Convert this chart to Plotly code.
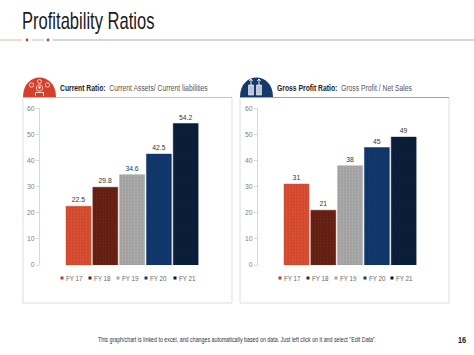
import json
import plotly.graph_objects as go

W, H = 474, 355
categories = ["FY 17", "FY 18", "FY 19", "FY 20", "FY 21"]
current_ratio = [22.5, 29.8, 34.6, 42.5, 54.2]
gross_profit_ratio = [31, 21, 38, 45, 49]
current_labels = ["22.5", "29.8", "34.6", "42.5", "54.2"]
gross_labels = ["31", "21", "38", "45", "49"]
y_ticks = [0, 10, 20, 30, 40, 50, 60]
colors = ["#D2452A", "#6C2316", "#9F9F9F", "#123A6E", "#0B1F3D"]
pattern_fg = ["#DB5A3E", "#591A0E", "#B2B2B2", "#0E3060", "#081830"]
legend_colors = ["#C0392B", "#5E1A10", "#A6A6A6", "#123A6E", "#0B1626"]
SANS = "Liberation Sans, Arial, sans-serif"


def px(x):
    return x / W


def py(y):
    return 1 - y / H


def path(*cmds):
    out = []
    for c in cmds:
        if isinstance(c, str):
            out.append(c)
        else:
            out.append(f"{px(c[0]):.5f},{py(c[1]):.5f}")
    return " ".join(out)


fig = go.Figure()
shapes = []
annotations = []
text_scales = []


def rect(x0, y0, x1, y1, fill="rgba(0,0,0,0)", line="rgba(0,0,0,0)", lw=0, layer="below"):
    shapes.append(dict(type="rect", xref="paper", yref="paper", x0=px(x0), x1=px(x1), y0=py(y0), y1=py(y1),
                       fillcolor=fill, line=dict(color=line, width=lw), layer=layer))


def seg(x0, y0, x1, y1, color, lw=1.0, layer="below"):
    shapes.append(dict(type="line", xref="paper", yref="paper", x0=px(x0), x1=px(x1), y0=py(y0), y1=py(y1),
                       line=dict(color=color, width=lw), layer=layer))


def circ(cx, cy, r, fill="rgba(0,0,0,0)", line="#FFFFFF", lw=0.7):
    shapes.append(dict(type="circle", xref="paper", yref="paper", x0=px(cx - r), x1=px(cx + r), y0=py(cy - r), y1=py(cy + r),
                       fillcolor=fill, line=dict(color=line, width=lw), layer="above"))


def text(x, y, s, size, color, scale=1.0):
    annotations.append(dict(xref="paper", yref="paper", x=px(x), y=py(y), text=s, showarrow=False,
                            xanchor="left", yanchor="middle", align="left",
                            font=dict(size=size, color=color, family=SANS), borderpad=0, borderwidth=0))
    text_scales.append(scale)


# slide title and rule
text(22, 20.5, "Profitability Ratios", 23, "#1A1A1A", 0.72)
seg(0, 40, 22, 40, "#D9B9A8", 1)
seg(32, 40, 44, 40, "#D9B9A8", 1)
seg(53, 40, 474, 40, "#A9AEB0", 1.2)
circ(27, 40, 1.4, fill="#B5492F", line="#B5492F", lw=0)
circ(48, 40, 1.4, fill="#B5492F", line="#B5492F", lw=0)

# panels
panels = [
    dict(left=23, right=232, ax0=40, ax1=225, top="#E3B9AC", head="#D5402A", vals=current_ratio, labs=current_labels,
         xa="x", ya="y", lx=[62, 90, 118, 146, 175], cap_x=60,
         bold="Current Ratio:", rest="Current Assets/ Current liabilities"),
    dict(left=240, right=449, ax0=258, ax1=442, top="#9AA6B2", head="#14396B", vals=gross_profit_ratio, labs=gross_labels,
         xa="x2", ya="y2", lx=[280, 308, 336, 365, 392], cap_x=277,
         bold="Gross Profit Ratio:", rest="Gross Profit / Net Sales"),
]
for p in panels:
    L = p["left"]
    rect(L, 97.5, p["right"], 303, fill="#FFFFFF", line="#DEDEDE", lw=1)
    seg(L, 97.5, p["right"], 97.5, p["top"], 1)
    # header half disc
    shapes.append(dict(type="path", xref="paper", yref="paper", layer="below", fillcolor=p["head"], line=dict(width=0),
                       path=path("M", (L, 97), "C", (L, 71), (L + 33, 71), (L + 33, 97), "Z")))
    text(p["cap_x"], 87.5, f"<b>{p['bold']}</b>  <span style='color:#555555'>{p['rest']}</span>", 8.6, "#222222", 0.79)
    # legend
    for xk, cat, c in zip(p["lx"], categories, legend_colors):
        rect(xk - 1.5, 276.5, xk + 1.5, 279.5, fill=c, layer="above")
        text(xk + 3.5, 278, cat, 7.6, "#666666", 0.82)

# header icons
for cx, cy in [(39.5, 88)]:
    circ(cx, cy, 3.2)
    circ(cx - 8, cy - 3, 2.2)
    circ(cx + 8, cy - 3, 2.2)
    circ(cx, cy - 6.5, 2)
    circ(cx, cy - 0.5, 1.2, fill="#FFFFFF", lw=0)
    shapes.append(dict(type="path", xref="paper", yref="paper", layer="above", line=dict(color="#FFFFFF", width=0.8),
                       path=path("M", (cx - 4, 96), "L", (cx - 4, 92.5), "L", (cx + 4, 92.5), "L", (cx + 4, 96))))
for cx in (251, 259):
    rect(cx - 2.5, 85, cx + 2.5, 95, fill="#B9C6D6", line="#FFFFFF", lw=0.6, layer="above")
    seg(cx, 79, cx, 85, "#FFFFFF", 0.9, "above")
    seg(cx - 1.8, 81, cx, 79, "#FFFFFF", 0.9, "above")
    seg(cx + 1.8, 81, cx, 79, "#FFFFFF", 0.9, "above")

# bars
for p in panels:
    slot_px = 26.8
    first_center = p["ax0"] + 38.5
    rng = [(p["ax0"] - first_center) / slot_px, (p["ax1"] - first_center) / slot_px]
    for i, cat in enumerate(categories):
        fig.add_trace(go.Bar(
            x=[i], y=[p["vals"][i]], name=cat, text=[p["labs"][i]], textposition="outside",
            textfont=dict(size=6.8, color="#333333", family=SANS), cliponaxis=False, width=0.93,
            marker=dict(color=colors[i], line=dict(width=0.5, color=colors[i]),
                        pattern=dict(shape=".", size=3, solidity=0.35, fgcolor=pattern_fg[i], bgcolor=colors[i])),
            xaxis=p["xa"], yaxis=p["ya"], showlegend=False))
    xkey = "xaxis" if p["xa"] == "x" else "xaxis2"
    ykey = "yaxis" if p["ya"] == "y" else "yaxis2"
    fig.update_layout({
        xkey: dict(domain=[px(p["ax0"]), px(p["ax1"])], range=rng, visible=False, anchor=p["ya"], automargin=False),
        ykey: dict(domain=[py(265), py(108.4)], range=[0, 60], tickvals=y_ticks, anchor=p["xa"], showgrid=False,
                   zeroline=False, showline=True, linecolor="#D9D9D9", linewidth=1, ticks="outside", ticklen=3,
                   tickcolor="#D9D9D9", tickfont=dict(size=6.8, color="#7F7F7F", family=SANS), automargin=False),
    })

# footer
text(98, 340, "This graph/chart is linked to excel, and changes automatically based on data. Just left click on it and select \"Edit Data\".",
     6.4, "#333333", 0.83)
text(458, 340, "<b>16</b>", 8.5, "#222222", 0.85)

fig.update_layout(template="none", width=W, height=H, margin=dict(l=0, r=0, t=0, b=0, pad=0), paper_bgcolor="#FFFFFF",
                  plot_bgcolor="rgba(0,0,0,0)", barmode="overlay", shapes=shapes, annotations=annotations,
                  showlegend=False)

# No condensed face is installed, so condense the annotation text horizontally around its left edge.
post = """
document.body.style.margin='0';document.body.style.overflow='hidden';
var gd=document.getElementById('{plot_id}');
var scales=%s;
function condense(){
  gd.querySelectorAll('.annotation-text').forEach(function(t,i){
    var x=t.getBBox().x, s=scales[i];
    t.setAttribute('transform','translate('+x+',0) scale('+s+',1) translate('+(-x)+',0)');
  });
}
condense();
gd.on('plotly_afterplot',condense);
""" % json.dumps(text_scales)
fig.write_html("out.html", config={"displayModeBar": False}, post_script=post)
